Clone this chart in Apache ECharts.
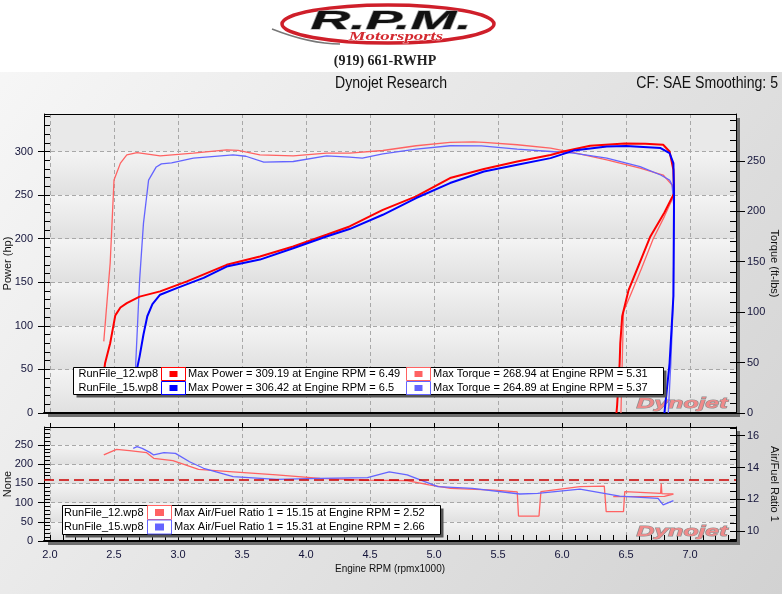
<!DOCTYPE html>
<html>
<head>
<meta charset="utf-8">
<title>Dynojet Research</title>
<script src="https://cdn.jsdelivr.net/npm/echarts@6/dist/echarts.min.js"></script>
<style>
  html, body { margin: 0; padding: 0; }
  #chart { width: 782px; height: 594px; }
</style>
</head>
<body>
<div id="chart"></div>
<script>
// ---- axes ----
const rpmTicks = [2.0, 2.5, 3.0, 3.5, 4.0, 4.5, 5.0, 5.5, 6.0, 6.5, 7.0];
const rpmMin = 1.953, rpmMax = 7.359;
const powerLabels = [0, 50, 100, 150, 200, 250, 300];
const torqueLabels = [0, 50, 100, 150, 200, 250];
const noneLabels = [0, 50, 100, 150, 200, 250];
const afrLabels = [10, 12, 14, 16];
const powerMax = 343, torqueMax = 296.5, noneMax = 297;
const afrMin = 9.37, afrMax = 16.55;
const afrTarget = 13.2;

// ---- top plot: RunFile_12 ----
const power12Rpm = [2.405, 2.43, 2.47, 2.51, 2.55, 2.60, 2.70, 2.86, 3.07, 3.38, 3.64, 3.90, 4.16, 4.34, 4.60, 4.86, 5.125, 5.39, 5.65, 5.91, 6.01, 6.22, 6.49, 6.65, 6.79, 6.84, 6.87, 6.875, 6.80, 6.69, 6.60, 6.52, 6.47, 6.455, 6.45, 6.43, 6.425];
const power12Hp = [30, 57, 80, 112, 121, 126, 133.5, 139.5, 151, 170, 179.5, 191, 204.5, 214, 233, 248.5, 269.5, 280, 288.5, 296, 300, 306.5, 309.2, 309, 307.7, 300, 279, 252, 230, 202.5, 170, 141, 111, 80, 57, 8, 0];
const torque12Rpm = [2.42, 2.445, 2.47, 2.50, 2.55, 2.60, 2.68, 2.86, 3.12, 3.38, 3.47, 3.64, 3.90, 4.16, 4.34, 4.60, 4.86, 5.125, 5.31, 5.39, 5.65, 5.91, 6.09, 6.35, 6.61, 6.79, 6.86, 6.875, 6.80, 6.71, 6.62, 6.53, 6.48, 6.47, 6.46];
const torque12Ft = [71, 110, 148.7, 231, 247.8, 256, 258.3, 255, 257.7, 261, 260.5, 256, 255, 257.7, 257.7, 260.3, 265, 268.3, 268.9, 268.3, 266, 262.6, 258.3, 251, 242.8, 236, 226, 216, 195, 172, 143, 115.6, 100.7, 49.6, 0];

// ---- top plot: RunFile_15 ----
const power15Rpm = [2.65, 2.70, 2.73, 2.76, 2.80, 2.86, 2.99, 3.20, 3.38, 3.64, 3.90, 4.16, 4.34, 4.60, 4.86, 5.125, 5.39, 5.65, 5.91, 6.09, 6.35, 6.50, 6.77, 6.84, 6.87, 6.875, 6.87, 6.84, 6.80];
const power15Hp = [30, 65, 90, 111, 125, 135.7, 143.3, 155, 168, 176, 189, 202.5, 211, 227.4, 246.6, 263.8, 277, 284.7, 292.4, 301, 305.8, 306.4, 303.9, 298, 286.7, 248, 134, 57, 0];
const torque15Rpm = [2.665, 2.67, 2.70, 2.73, 2.77, 2.83, 2.87, 2.95, 3.12, 3.43, 3.53, 3.67, 3.90, 4.16, 4.34, 4.44, 4.60, 4.86, 5.125, 5.37, 5.65, 5.91, 6.09, 6.35, 6.61, 6.77, 6.84, 6.86, 6.875, 6.87, 6.85, 6.83];
const torque15Ft = [30, 50, 132, 188, 231, 244, 247, 248, 252.7, 256, 254.6, 248.8, 249.4, 255, 253.7, 252.7, 257, 261.6, 265, 264.9, 261.6, 259.3, 257.7, 252.7, 244.4, 236, 231, 226, 201.5, 115.6, 49.6, 0];

// ---- bottom plot: air/fuel ratio ----
const afr12Rpm = [2.42, 2.52, 2.62, 2.755, 2.81, 2.96, 3.16, 3.43, 3.77, 4.11, 4.45, 4.79, 4.96, 5.13, 5.47, 5.65, 5.66, 5.82, 5.835, 6.14, 6.33, 6.345, 6.48, 6.49, 6.77, 6.775, 6.78, 6.87, 6.80, 6.40];
const afr12Ratio = [14.79, 15.14, 15.06, 14.93, 14.58, 14.43, 13.88, 13.73, 13.53, 13.32, 13.21, 13.17, 12.9, 12.69, 12.58, 12.46, 10.94, 10.94, 12.48, 12.79, 12.83, 11.22, 11.22, 12.48, 12.37, 12.99, 12.35, 12.33, 12.18, 12.16];
const afr15Rpm = [2.65, 2.68, 2.72, 2.78, 2.81, 2.89, 2.98, 3.09, 3.20, 3.43, 3.77, 4.11, 4.48, 4.65, 4.79, 5.03, 5.30, 5.67, 5.81, 6.14, 6.45, 6.75, 6.79, 6.87];
const afr15Ratio = [15.21, 15.31, 15.2, 14.95, 14.79, 14.93, 14.89, 14.36, 13.95, 13.42, 13.25, 13.32, 13.36, 13.73, 13.53, 12.79, 12.69, 12.33, 12.37, 12.64, 12.2, 12.06, 11.64, 11.91];

// ---- legend text ----
const runNames = ['RunFile_12.wp8', 'RunFile_15.wp8'];
const maxPower = [[309.19, 6.49], [306.42, 6.5]];
const maxTorque = [[268.94, 5.31], [264.89, 5.37]];
const maxAfr = [[15.15, 2.52], [15.31, 2.66]];

const COL = { p12: '#ff0000', p15: '#0000ff', t12: '#ff6262', t15: '#6464ff' };
const FONT = "'Liberation Sans', Arial, sans-serif";
const LABEL_COLOR = '#14143a';

function steps(from, to, step) {
  const out = [];
  for (let v = from; v <= to + 1e-9; v += step) out.push(Math.round(v * 100) / 100);
  return out;
}
function pairs(xs, ys) { return xs.map((x, i) => [x, ys[i]]); }

const bandFill = {
  type: 'linear', x: 0, y: 0, x2: 0, y2: 1,
  colorStops: [{ offset: 0, color: '#f4f4f4' }, { offset: 1, color: '#e0e0e0' }]
};
const gridDash = { color: '#a8a8a8', type: [4, 3], width: 1 };

// visible axis: line, labels, inside ticks
function yMain(grid, pos, min, max, labels, ticks, name, rotate, gap) {
  return {
    type: 'value', gridIndex: grid, position: pos, min: min, max: max,
    name: name, nameLocation: 'middle', nameGap: gap, nameRotate: rotate, nameMoveOverlap: false,
    nameTextStyle: { fontFamily: FONT, fontSize: 11, color: '#111' },
    axisLine: { show: true, onZero: false, lineStyle: { color: '#000', width: 1 } },
    axisTick: { show: true, inside: true, length: 6, customValues: ticks, lineStyle: { color: '#000' } },
    axisLabel: { show: true, customValues: labels, margin: 11, fontFamily: FONT, fontSize: 11, color: LABEL_COLOR },
    splitLine: { show: false }, splitArea: { show: false }
  };
}
// twin axis: outside major ticks, grid lines and bands
function yTwin(grid, pos, min, max, ticks, len, split) {
  return {
    type: 'value', gridIndex: grid, position: pos, min: min, max: max,
    axisLine: { show: false, onZero: false },
    axisTick: { show: true, inside: false, length: len, customValues: ticks, lineStyle: { color: '#000' } },
    axisLabel: { show: false },
    splitLine: { show: split, lineStyle: gridDash },
    splitArea: { show: split, areaStyle: { color: [bandFill] } }
  };
}

function lineSeries(name, xi, yi, xs, ys, color, width) {
  return {
    type: 'line', name: name, xAxisIndex: xi, yAxisIndex: yi,
    data: pairs(xs, ys), showSymbol: false, symbol: 'none', silent: true, z: 3,
    lineStyle: { color: color, width: width }, itemStyle: { color: color }
  };
}

// ---- graphics: header, frames, legends ----
const g = [];
g.push({ type: 'rect', z: -50, silent: true, shape: { x: 0, y: 0, width: 782, height: 72 }, style: { fill: '#ffffff' } });
// logo
g.push({ type: 'ellipse', silent: true, shape: { cx: 388, cy: 24, rx: 106, ry: 19 }, style: { fill: null, stroke: '#cf1f2a', lineWidth: 3.5 } });
g.push({ type: 'bezierCurve', silent: true, shape: { x1: 272, y1: 29, x2: 340, y2: 44, cpx1: 300, cpy1: 40, cpx2: 320, cpy2: 44 }, style: { stroke: '#777', lineWidth: 1.5, fill: null } });
g.push({ type: 'text', silent: true, x: 391, y: 22, scaleX: 2.2, style: { text: 'R.P.M.', font: "italic 900 25px 'Liberation Sans'", fill: '#111', stroke: '#9a9a9a', lineWidth: 0.8, align: 'center', verticalAlign: 'middle' } });
g.push({ type: 'text', silent: true, x: 396, y: 37, scaleX: 1.45, style: { text: 'Motorsports', font: "italic bold 13px 'Liberation Serif'", fill: '#d42a30', stroke: '#ffffff', lineWidth: 0.6, align: 'center', verticalAlign: 'middle' } });
g.push({ type: 'text', silent: true, x: 385, y: 61, style: { text: '(919) 661-RWHP', font: "bold 14px 'Liberation Serif'", fill: '#222', align: 'center', verticalAlign: 'middle' } });
// titles
g.push({ type: 'text', silent: true, x: 391, y: 84, scaleX: 0.88, style: { text: 'Dynojet Research', font: '16px ' + FONT, fill: '#111', align: 'center', verticalAlign: 'middle' } });
g.push({ type: 'text', silent: true, x: 778, y: 84, scaleX: 0.88, style: { text: 'CF: SAE Smoothing: 5', font: '16px ' + FONT, fill: '#111', align: 'right', verticalAlign: 'middle' } });

// plot frames (top edge) and drop shadows
[[114, 299], [427, 114]].forEach(function (p) {
  const top = p[0], h = p[1];
  g.push({ type: 'rect', silent: true, shape: { x: 736, y: top + 4, width: 4, height: h }, style: { fill: '#6e6e6e' } });
  g.push({ type: 'rect', silent: true, shape: { x: 48, y: top + h, width: 692, height: 4 }, style: { fill: '#6e6e6e' } });
  g.push({ type: 'line', silent: true, z: 5, shape: { x1: 44, y1: top + 0.5, x2: 736, y2: top + 0.5 }, style: { stroke: '#000', lineWidth: 1 } });
});

// watermarks
[404, 532].forEach(function (y) {
  g.push({ type: 'text', silent: true, z: 1, x: 682, y: y, scaleX: 1.65, style: { text: 'Dynojet', font: "italic 900 15px 'Liberation Sans'", fill: '#f08a8a', stroke: '#8c8c8c', lineWidth: 1, align: 'center', verticalAlign: 'middle' } });
});

function swatch(x, y, w, h, color, iw, ih) {
  g.push({ type: 'rect', silent: true, z: 51, shape: { x: x, y: y, width: w, height: h }, style: { fill: '#fff', stroke: color, lineWidth: 1 } });
  g.push({ type: 'rect', silent: true, z: 52, shape: { x: x + (w - iw) / 2, y: y + (h - ih) / 2, width: iw, height: ih }, style: { fill: color } });
}
function legendText(x, y, text, align) {
  g.push({ type: 'text', silent: true, z: 52, x: x, y: y, style: { text: text, font: '11px ' + FONT, fill: '#000', align: align, verticalAlign: 'middle' } });
}
function legendBox(x, y, w, h) {
  g.push({ type: 'rect', silent: true, z: 49, shape: { x: x + 3, y: y + 3, width: w, height: h }, style: { fill: '#555' } });
  g.push({ type: 'rect', silent: true, z: 50, shape: { x: x, y: y, width: w, height: h }, style: { fill: '#fff', stroke: '#000', lineWidth: 1 } });
}

// power / torque legend
legendBox(73.5, 367.5, 590, 27);
[[374, COL.p12, COL.t12], [388, COL.p15, COL.t15]].forEach(function (row, i) {
  const y = row[0];
  legendText(158, y, runNames[i], 'right');
  swatch(161.5, y - 6.5, 24, 13, row[1], 8, 6);
  legendText(188, y, 'Max Power = ' + maxPower[i][0] + ' at Engine RPM = ' + maxPower[i][1], 'left');
  swatch(406.5, y - 6.5, 24, 13, row[2], 8, 6);
  legendText(433, y, 'Max Torque = ' + maxTorque[i][0] + ' at Engine RPM = ' + maxTorque[i][1], 'left');
});
// air/fuel legend
legendBox(62.5, 505.5, 378, 29);
[[512.5, COL.t12], [527, COL.t15]].forEach(function (row, i) {
  const y = row[0];
  legendText(143.5, y, runNames[i], 'right');
  swatch(147.5, y - 7, 24, 14, row[1], 9, 7);
  legendText(174, y, 'Max Air/Fuel Ratio 1 = ' + maxAfr[i][0] + ' at Engine RPM = ' + maxAfr[i][1], 'left');
});

const option = {
  animation: false,
  backgroundColor: {
    type: 'linear', x: 0, y: 0, x2: 1, y2: 1,
    colorStops: [{ offset: 0, color: '#f8f8f8' }, { offset: 1, color: '#d2d2d2' }]
  },
  grid: [
    { left: 44, right: 46, top: 114, height: 299, outerBoundsMode: 'none', containLabel: false, show: true, backgroundColor: '#e9e9e9', borderWidth: 0 },
    { left: 44, right: 46, top: 427, height: 114, outerBoundsMode: 'none', containLabel: false, show: true, backgroundColor: '#e9e9e9', borderWidth: 0 }
  ],
  xAxis: [
    {
      type: 'value', gridIndex: 0, min: rpmMin, max: rpmMax, splitNumber: 11,
      axisLine: { show: true, onZero: false, lineStyle: { color: '#000', width: 2 } },
      axisTick: { show: false, customValues: rpmTicks },
      axisLabel: { show: false, customValues: rpmTicks },
      splitLine: { show: true, lineStyle: gridDash }
    },
    {
      type: 'value', gridIndex: 1, min: rpmMin, max: rpmMax, splitNumber: 11,
      name: 'Engine RPM (rpmx1000)', nameLocation: 'middle', nameGap: 23, nameMoveOverlap: false,
      nameTextStyle: { fontFamily: FONT, fontSize: 10, color: '#111' },
      axisLine: { show: true, onZero: false, lineStyle: { color: '#000', width: 2 } },
      axisTick: { show: true, inside: true, length: 6, customValues: steps(2.0, 7.3, 0.1), lineStyle: { color: '#000' } },
      axisLabel: { show: true, customValues: rpmTicks, margin: 8, fontFamily: FONT, fontSize: 11, color: LABEL_COLOR, formatter: function (v) { return v.toFixed(1); } },
      splitLine: { show: false }
    },
    {
      type: 'value', gridIndex: 1, min: rpmMin, max: rpmMax, splitNumber: 11,
      axisLine: { show: false, onZero: false },
      axisTick: { show: true, inside: false, length: 4, customValues: rpmTicks, lineStyle: { color: '#000' } },
      axisLabel: { show: false },
      splitLine: { show: true, lineStyle: gridDash }
    }
  ],
  yAxis: [
    yMain(0, 'left', 0, powerMax, powerLabels, steps(0, 340, 10), 'Power (hp)', 90, 31),
    yTwin(0, 'left', 0, powerMax, powerLabels, 6, true),
    yMain(0, 'right', 0, torqueMax, torqueLabels, steps(0, 290, 10), 'Torque (ft-lbs)', -90, 33),
    yTwin(0, 'right', 0, torqueMax, torqueLabels, 9, false),
    yMain(1, 'left', 0, noneMax, noneLabels, steps(0, 290, 10), 'None', 90, 31),
    yTwin(1, 'left', 0, noneMax, noneLabels, 6, true),
    yMain(1, 'right', afrMin, afrMax, afrLabels, steps(9.5, 16.5, 0.5), 'Air/Fuel Ratio 1', -90, 33),
    yTwin(1, 'right', afrMin, afrMax, afrLabels, 9, false)
  ],
  series: [
    lineSeries('Torque RunFile_12', 0, 2, torque12Rpm, torque12Ft, COL.t12, 1.3),
    lineSeries('Torque RunFile_15', 0, 2, torque15Rpm, torque15Ft, COL.t15, 1.3),
    lineSeries('Power RunFile_12', 0, 0, power12Rpm, power12Hp, COL.p12, 2),
    lineSeries('Power RunFile_15', 0, 0, power15Rpm, power15Hp, COL.p15, 2),
    Object.assign(lineSeries('AFR RunFile_12', 1, 6, afr12Rpm, afr12Ratio, COL.t12, 1.3), {
      markLine: {
        silent: true, symbol: 'none', label: { show: false },
        lineStyle: { color: '#cc0000', type: [10, 5], width: 1.5 },
        data: [{ yAxis: afrTarget }]
      }
    }),
    lineSeries('AFR RunFile_15', 1, 6, afr15Rpm, afr15Ratio, COL.t15, 1.3)
  ],
  graphic: { elements: g }
};

const chart = echarts.init(document.getElementById('chart'));
chart.setOption(option);
window.addEventListener('resize', function () { chart.resize(); });
</script>
</body>
</html>
